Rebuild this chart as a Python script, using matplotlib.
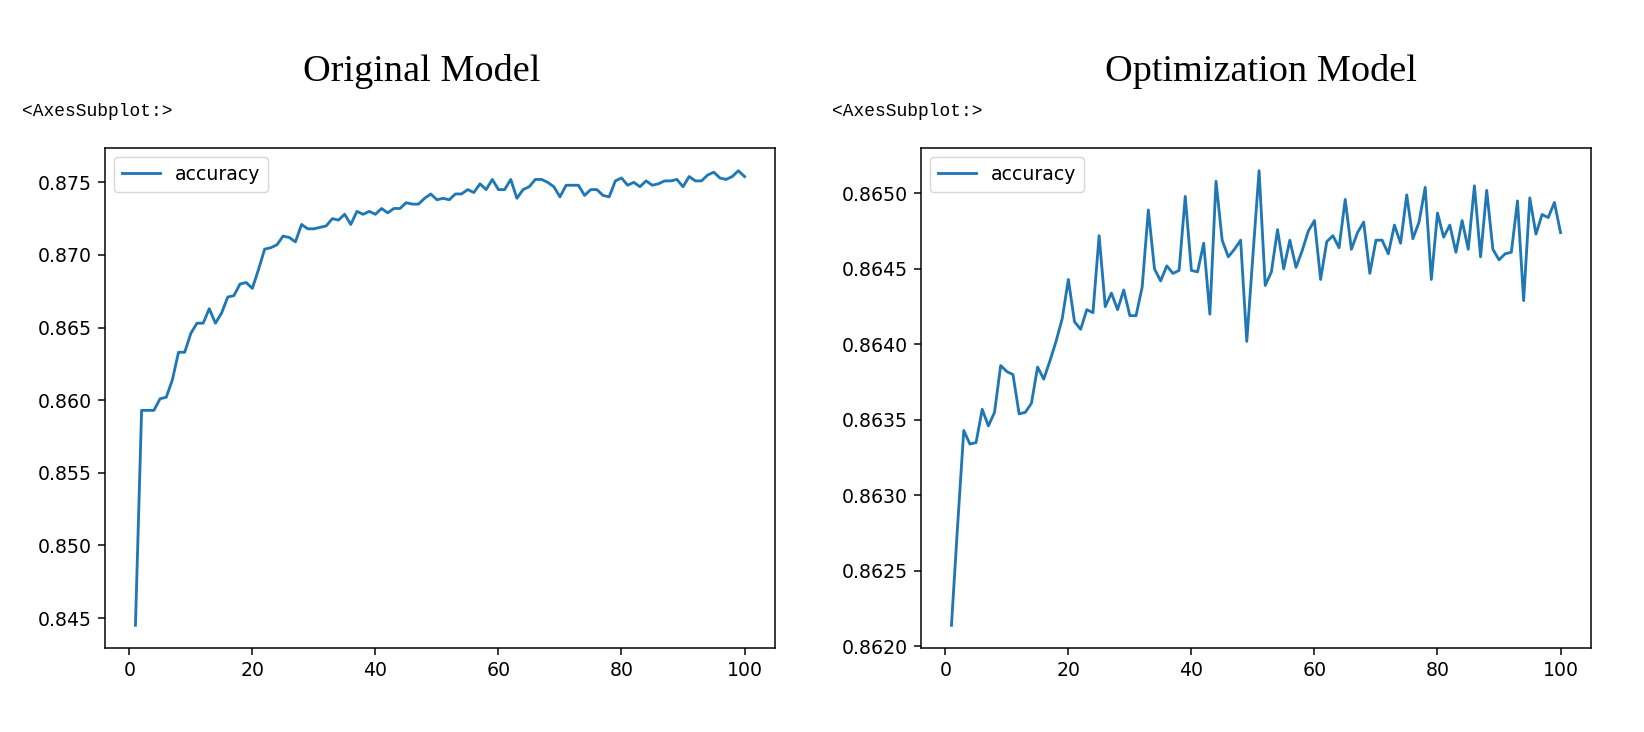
import numpy as np
import matplotlib
matplotlib.use("Agg")
from matplotlib import pyplot as plt
from matplotlib.ticker import MultipleLocator, FormatStrFormatter

# epochs shared by both runs
epochs = list(range(1, 101))

# accuracy per epoch, original model
original_acc = [
    0.8445, 0.8593, 0.8593, 0.8593, 0.8601, 0.8602, 0.8614, 0.8633, 0.8633, 0.8646,
    0.8653, 0.8653, 0.8663, 0.8653, 0.8660, 0.8671, 0.8672, 0.8680, 0.8681, 0.8677,
    0.8690, 0.8704, 0.8705, 0.8707, 0.8713, 0.8712, 0.8709, 0.8721, 0.8718, 0.8718,
    0.8719, 0.8720, 0.8725, 0.8724, 0.8728, 0.8721, 0.8730, 0.8728, 0.8730, 0.8728,
    0.8732, 0.8729, 0.8732, 0.8732, 0.8736, 0.8735, 0.8735, 0.8739, 0.8742, 0.8738,
    0.8739, 0.8738, 0.8742, 0.8742, 0.8745, 0.8743, 0.8749, 0.8745, 0.8752, 0.8745,
    0.8745, 0.8752, 0.8739, 0.8745, 0.8747, 0.8752, 0.8752, 0.8750, 0.8747, 0.8740,
    0.8748, 0.8748, 0.8748, 0.8741, 0.8745, 0.8745, 0.8741, 0.8740, 0.8751, 0.8753,
    0.8748, 0.8750, 0.8747, 0.8751, 0.8748, 0.8749, 0.8751, 0.8751, 0.8752, 0.8747,
    0.8754, 0.8751, 0.8751, 0.8755, 0.8757, 0.8753, 0.8752, 0.8754, 0.8758, 0.8754,
]

# accuracy per epoch, optimized model
optimized_acc = [
    0.86214, 0.86280, 0.86343, 0.86334, 0.86335, 0.86357, 0.86346, 0.86355, 0.86386, 0.86382,
    0.86380, 0.86354, 0.86355, 0.86361, 0.86385, 0.86377, 0.86389, 0.86402, 0.86417, 0.86443,
    0.86415, 0.86410, 0.86423, 0.86421, 0.86472, 0.86425, 0.86434, 0.86423, 0.86436, 0.86419,
    0.86419, 0.86438, 0.86489, 0.86450, 0.86442, 0.86452, 0.86447, 0.86449, 0.86498, 0.86449,
    0.86448, 0.86467, 0.86420, 0.86508, 0.86469, 0.86458, 0.86463, 0.86469, 0.86402, 0.86459,
    0.86515, 0.86439, 0.86448, 0.86476, 0.86450, 0.86469, 0.86451, 0.86462, 0.86475, 0.86482,
    0.86443, 0.86468, 0.86472, 0.86464, 0.86496, 0.86463, 0.86474, 0.86481, 0.86447, 0.86469,
    0.86469, 0.86460, 0.86479, 0.86467, 0.86499, 0.86470, 0.86481, 0.86504, 0.86443, 0.86487,
    0.86471, 0.86479, 0.86461, 0.86482, 0.86463, 0.86505, 0.86458, 0.86502, 0.86463, 0.86456,
    0.86460, 0.86461, 0.86495, 0.86429, 0.86497, 0.86473, 0.86486, 0.86484, 0.86494, 0.86474,
]

titles = ["Original Model", "Optimization Model"]
repr_text = "<AxesSubplot:>"
series_label = "accuracy"

W, H = 1644, 732
S = 1.358  # scale of the notebook render vs default sizes

plt.rcParams["font.family"] = "DejaVu Sans"
fig = plt.figure(figsize=(W / 100, H / 100), dpi=100)
fig.patch.set_facecolor("white")


def px_axes(left, top, width, height):
    return fig.add_axes([left / W, 1 - (top + height) / H, width / W, height / H])


def style_axes(ax):
    for sp in ax.spines.values():
        sp.set_linewidth(0.8 * S)
    ax.tick_params(labelsize=10 * S, length=3.5 * S, width=0.8 * S, pad=3.5 * S)


# axes left edge, data, y step, y format, title centre, repr text x
panels = [
    (105, original_acc, 0.005, "%.3f", 422, 22),
    (921, optimized_acc, 0.0005, "%.4f", 1261, 832),
]

for i, (left, acc, step, fmt, title_x, repr_x) in enumerate(panels):
    ax = px_axes(left, 148, 670, 500)
    ax.plot(epochs, acc, color="#1f77b4", linewidth=1.5 * S, label=series_label)
    ax.xaxis.set_major_locator(MultipleLocator(20))
    ax.yaxis.set_major_locator(MultipleLocator(step))
    ax.yaxis.set_major_formatter(FormatStrFormatter(fmt))
    style_axes(ax)
    ax.legend(loc="upper left", fontsize=10 * S)

    fig.text(title_x / W, 1 - 81 / H, titles[i], family="Liberation Serif",
             fontsize=27.5, ha="center", va="baseline")
    fig.text(repr_x / W, 1 - 116 / H, repr_text, family="Liberation Mono",
             fontsize=12.9, ha="left", va="baseline")

fig.savefig("out.png", dpi=100, facecolor="white")
